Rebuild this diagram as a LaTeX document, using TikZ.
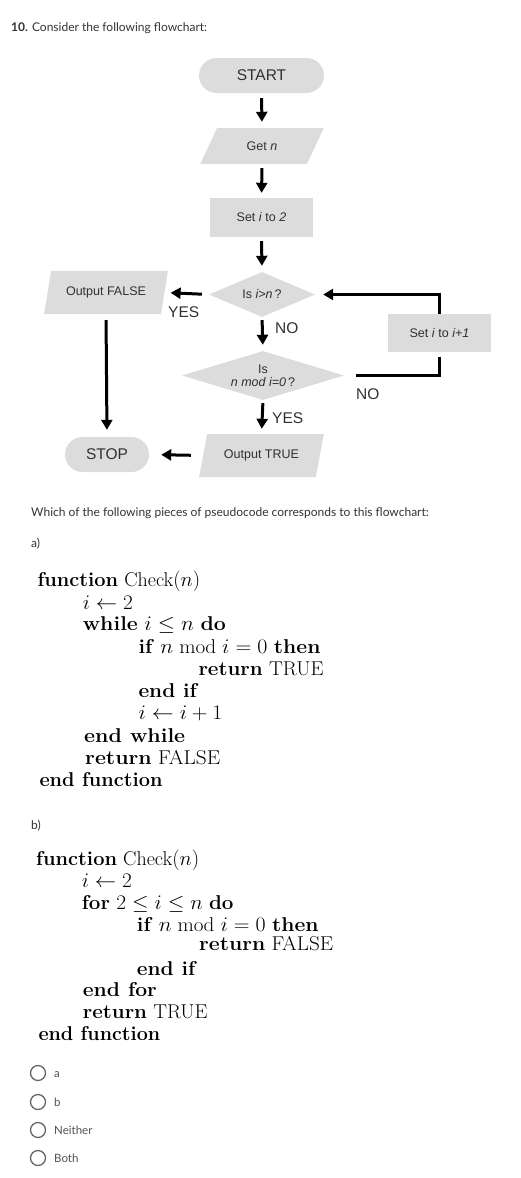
\documentclass[tikz,border=0pt]{standalone}
\usepackage{fontspec}
\usepackage{amsmath}
\usepackage{graphicx}
\newfontfamily\uifont{Lato}
\newfontfamily\chartfont{Liberation Sans}
\usetikzlibrary{shapes.geometric,arrows.meta}
\definecolor{boxgray}{HTML}{DCDCDC}
\definecolor{chartink}{HTML}{303030}
\definecolor{uiink}{HTML}{333333}
\definecolor{radiogray}{HTML}{666666}
\newcommand{\codefit}[2]{\resizebox{#1pt}{\height}{#2}}
\tikzset{
  chartbig/.style={font=\chartfont\fontsize{15.5}{18}\selectfont, text=chartink},
  chartsmall/.style={font=\chartfont\fontsize{12.5}{14}\selectfont, text=chartink, align=center},
  pill/.style={chartbig, fill=boxgray, rounded corners=17.5pt, minimum height=35pt, inner sep=0pt},
  para/.style={chartsmall, trapezium, trapezium stretches=true, fill=boxgray, inner sep=0pt},
  procbox/.style={chartsmall, rectangle, fill=boxgray, inner sep=0pt},
  decide/.style={chartsmall, diamond, fill=boxgray, inner sep=0pt},
  arr/.style={line width=3pt, -{Triangle[width=11pt,length=10pt]}},
  plainline/.style={line width=3pt},
  lbl/.style={chartbig, anchor=base west, inner sep=0pt},
  ui/.style={font=\uifont\fontsize{12}{14}\selectfont, text=uiink, anchor=base west, inner sep=0pt},
  code/.style={font=\fontsize{20}{22}\selectfont, anchor=base west, inner sep=0pt},
  radio/.style={circle, draw=radiogray, line width=1.3pt, minimum size=15pt, inner sep=0pt},
  opt/.style={font=\uifont\fontsize{11.5}{14}\selectfont, text=uiink!85, anchor=base west, inner sep=0pt},
}
\begin{document}
\begin{tikzpicture}[x=1pt,y=-1pt]
\useasboundingbox (0,0) rectangle (520,1178);

% header
\node[ui] (title) at (11,31) {\textbf{10.} Consider the following flowchart:};

% flowchart nodes
\node[pill, minimum width=125pt] (start) at (261.5,75.5) {START};
\node[para, trapezium left angle=57, trapezium right angle=123, minimum width=124pt, minimum height=36pt] (getn) at (262,146) {Get \textit{n}};
\node[procbox, minimum width=103pt, minimum height=39pt] (seti) at (261.5,217.5) {Set \textit{i} to \textit{2}};
\node[decide, aspect=2.36, minimum width=106pt, minimum height=45pt] (d1) at (262,294.5) {Is \textit{i>n}\,?};
\node[decide, aspect=3.3, minimum width=162pt, minimum height=49pt] (d2) at (263,375.5) {Is\\[-1pt]\textit{n mod i=0}\,?};
\node[para, trapezium left angle=66, trapezium right angle=114, minimum width=124pt, minimum height=43pt] (ofalse) at (106,292.5) {Output FALSE};
\node[para, trapezium left angle=64, trapezium right angle=116, minimum width=125pt, minimum height=43pt] (otrue) at (261.5,455.5) {Output TRUE};
\node[procbox, minimum width=103pt, minimum height=38pt] (inc) at (439.5,333) {Set \textit{i} to \textit{i+1}};
\node[pill, minimum width=84pt] (stop) at (107,454.5) {STOP};

% connectors
\draw[arr, shorten <=5pt, shorten >=6pt] (start.south) -- (getn.north);
\draw[arr, shorten <=4pt, shorten >=5pt] (getn.south) -- (seti.north);
\draw[arr, shorten <=4pt, shorten >=6pt] (seti.south) -- (d1.north);
\draw[arr, shorten <=3pt, shorten >=6pt] (d1.south) -- (d2.north);
\draw[arr, shorten <=3pt, shorten >=5pt] (d2.south) -- (otrue.north);
\draw[arr, shorten <=7pt, shorten >=6pt] (d1.west) -- (ofalse.east);
\draw[arr, shorten <=6pt, shorten >=7pt] (ofalse.south) -- (stop.north);
\draw[arr, shorten <=12pt, shorten >=12pt] (otrue.west) -- (stop.east);
\draw[arr, shorten >=8pt] (inc.north) |- (d1.east);
\coordinate (noStart) at ([xshift=12pt]d2.east);
\coordinate (noEnd) at ([yshift=-5pt]inc.south);
\draw[plainline] (noStart) -| (noEnd);

% connector labels
\node[lbl] (yes1) at (168,317) {YES};
\node[lbl] (no1) at (275,333) {NO};
\node[lbl] (no2) at (356,399) {NO};
\node[lbl] (yes2) at (272,423) {YES};

% question text
\node[ui] (question) at (31,516) {Which of the following pieces of pseudocode corresponds to this flowchart:};
\node[ui] (alabel) at (31,547) {a)};

% pseudocode a
\node[code] (a1) at (37.3,586.7) {\codefit{162.7}{\textbf{function} Check$(n)$}};
\node[code] (a2) at (82.7,609) {\codefit{50}{$i \gets 2$}};
\node[code] (a3) at (82.7,630) {\codefit{143}{\textbf{while} $i \le n$ \textbf{do}}};
\node[code] (a4) at (138.3,653) {\codefit{182}{\textbf{if} $n \bmod i = 0$ \textbf{then}}};
\node[code] (a5) at (198.3,675) {\codefit{125}{\textbf{return} TRUE}};
\node[code] (a6) at (138.3,697) {\codefit{60}{\textbf{end if}}};
\node[code] (a7) at (138.3,719) {\codefit{84}{$i \gets i+1$}};
\node[code] (a8) at (84,742) {\codefit{101}{\textbf{end while}}};
\node[code] (a9) at (85,764) {\codefit{135}{\textbf{return} FALSE}};
\node[code] (a10) at (39.3,786) {\codefit{123}{\textbf{end function}}};

\node[ui] (blabel) at (31,829) {b)};

% pseudocode b
\node[code] (b1) at (36,865.7) {\codefit{163}{\textbf{function} Check$(n)$}};
\node[code] (b2) at (81.7,887.3) {\codefit{50}{$i \gets 2$}};
\node[code] (b3) at (81.7,909.3) {\codefit{151.7}{\textbf{for} $2 \le i \le n$ \textbf{do}}};
\node[code] (b4) at (136.7,931.7) {\codefit{181.7}{\textbf{if} $n \bmod i = 0$ \textbf{then}}};
\node[code] (b5) at (199,950) {\codefit{134}{\textbf{return} FALSE}};
\node[code] (b6) at (136.7,975.7) {\codefit{60}{\textbf{end if}}};
\node[code] (b7) at (82.7,996.7) {\codefit{74}{\textbf{end for}}};
\node[code] (b8) at (82.7,1018.3) {\codefit{124.7}{\textbf{return} TRUE}};
\node[code] (b9) at (38.3,1040.7) {\codefit{121.7}{\textbf{end function}}};

% options
\node[radio] (ra) at (38,1073) {};
\node[radio] (rb) at (38,1102) {};
\node[radio] (rn) at (38,1130) {};
\node[radio] (rbo) at (38,1158) {};
\node[opt] (la) at (54,1077) {a};
\node[opt] (lb) at (54,1106) {b};
\node[opt] (ln) at (54,1134) {Neither};
\node[opt] (lbo) at (54,1162) {Both};
\end{tikzpicture}
\end{document}
